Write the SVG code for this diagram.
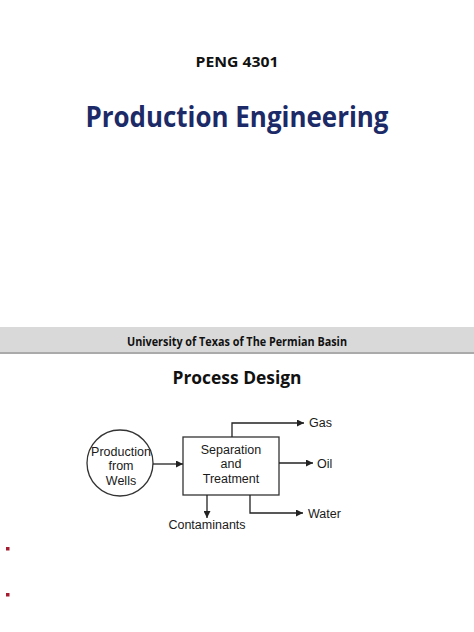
<svg xmlns="http://www.w3.org/2000/svg" width="474" height="632" viewBox="0 0 474 632">
<style>
.h{font-family:"Open Sans","Noto Sans",sans-serif;font-weight:bold;text-anchor:middle}
.d{font-family:"Liberation Sans",Arial,sans-serif;font-size:12.5px;fill:#1a1a1a}
.c{text-anchor:middle}
.ln{fill:none;stroke:#222;stroke-width:1.3}
.sh{fill:#fff;stroke:#333;stroke-width:1.3}
</style>
<defs>
<marker id="ah" viewBox="0 0 10 10" refX="10" refY="5" markerWidth="8" markerHeight="7" markerUnits="userSpaceOnUse" orient="auto">
<path d="M0,0 L10,5 L0,10 z" fill="#222"/>
</marker>
</defs>
<rect width="474" height="632" fill="#fff"/>
<text class="h" x="237" y="67" font-size="15" fill="#111" textLength="83" lengthAdjust="spacingAndGlyphs">PENG 4301</text>
<text class="h" x="237" y="127" font-size="29" fill="#1c2a67" textLength="303" lengthAdjust="spacingAndGlyphs">Production Engineering</text>
<rect x="0" y="327" width="474" height="26" fill="#d9d9d9"/>
<rect x="0" y="352" width="474" height="2" fill="#aaa"/>
<text class="h" x="237" y="346" font-size="12.5" fill="#111" textLength="220" lengthAdjust="spacingAndGlyphs">University of Texas of The Permian Basin</text>
<text class="h" x="237" y="384" font-size="18.5" fill="#111" textLength="129" lengthAdjust="spacingAndGlyphs">Process Design</text>
<g id="wells">
<circle class="sh" cx="120" cy="463" r="33"/>
<text class="d c" x="121" y="456">Production</text>
<text class="d c" x="121" y="470">from</text>
<text class="d c" x="121" y="485">Wells</text>
</g>
<g id="separator">
<rect class="sh" x="183" y="437" width="96" height="58"/>
<text class="d c" x="231" y="454">Separation</text>
<text class="d c" x="231" y="468">and</text>
<text class="d c" x="231" y="483">Treatment</text>
</g>
<g id="gas"><text class="d" x="309" y="427">Gas</text></g>
<g id="oil"><text class="d" x="317" y="468">Oil</text></g>
<g id="water"><text class="d" x="308" y="518">Water</text></g>
<g id="contaminants"><text class="d c" x="207" y="529">Contaminants</text></g>
<g id="connectors">
<path class="ln" d="M153,464 H183" marker-end="url(#ah)"/>
<path class="ln" d="M232,437 V423 H304" marker-end="url(#ah)"/>
<path class="ln" d="M279,463 H313" marker-end="url(#ah)"/>
<path class="ln" d="M250,495 V513 H303" marker-end="url(#ah)"/>
<path class="ln" d="M207,495 V518" marker-end="url(#ah)"/>
</g>
<rect x="6" y="547" width="3.5" height="3.5" fill="#a51c30"/>
<rect x="6" y="593" width="3.5" height="3.5" fill="#a51c30"/>
</svg>
